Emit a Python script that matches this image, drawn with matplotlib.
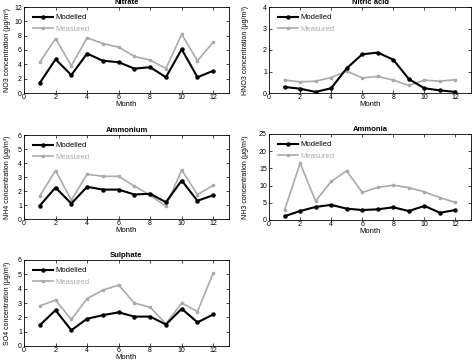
import matplotlib
matplotlib.use("Agg")
import matplotlib.pyplot as plt

months = list(range(1, 13))

no3_mod = [1.4, 4.7, 2.5, 5.5, 4.5, 4.3, 3.4, 3.6, 2.2, 6.1, 2.2, 3.1]
no3_meas = [4.3, 7.6, 3.8, 7.7, 6.9, 6.4, 5.1, 4.6, 3.4, 8.2, 4.5, 7.1]

hno3_mod = [0.28, 0.2, 0.05, 0.22, 1.15, 1.8, 1.88, 1.55, 0.65, 0.22, 0.12, 0.05]
hno3_meas = [0.6, 0.52, 0.55, 0.72, 1.02, 0.7, 0.77, 0.6, 0.35, 0.6, 0.55, 0.62]

nh4_mod = [0.95, 2.25, 1.1, 2.3, 2.1, 2.1, 1.75, 1.8, 1.2, 2.75, 1.3, 1.7]
nh4_meas = [1.65, 3.45, 1.35, 3.2, 3.05, 3.05, 2.35, 1.7, 0.9, 3.5, 1.75, 2.4]

nh3_mod = [1.1, 2.6, 3.8, 4.4, 3.3, 2.9, 3.1, 3.7, 2.6, 4.1, 2.1, 2.9]
nh3_meas = [2.8, 16.5, 5.5, 11.2, 14.3, 8.0, 9.5, 10.1, 9.4, 8.2, 6.5, 5.1]

so4_mod = [1.45, 2.5, 1.1, 1.9, 2.15, 2.35, 2.05, 2.05, 1.5, 2.6, 1.65, 2.2]
so4_meas = [2.8, 3.2, 1.85, 3.3, 3.9, 4.25, 3.0, 2.7, 1.55, 3.0, 2.4, 5.1]

panels = [
    ("Nitrate", "NO3", no3_mod, no3_meas, 12, [0, 2, 4, 6, 8, 10, 12], (24, 7, 229, 93), 11),
    ("Nitric acid", "HNO3", hno3_mod, hno3_meas, 4, [0, 1, 2, 3, 4], (269, 7, 471, 93), 249),
    ("Ammonium", "NH4", nh4_mod, nh4_meas, 6, [0, 1, 2, 3, 4, 5, 6], (24, 135, 229, 219), 11),
    ("Ammonia", "NH3", nh3_mod, nh3_meas, 25, [0, 5, 10, 15, 20, 25], (269, 134, 471, 220), 249),
    ("Sulphate", "SO4", so4_mod, so4_meas, 6, [0, 1, 2, 3, 4, 5, 6], (24, 260, 229, 346), 11),
]

W, H = 474, 361
fig = plt.figure(figsize=(W / 100, H / 100), dpi=100)
plt.rcParams['font.family'] = ['Liberation Sans', 'DejaVu Sans']

gray = "#aaaaaa"
for title, sp, mod, meas, ymax, yt, (x0, y0, x1, y1), ylx in panels:
    ax = fig.add_axes([x0 / W, 1 - y1 / H, (x1 - x0) / W, (y1 - y0) / H])
    ax.plot(months, meas, color=gray, lw=1.2, marker='s', ms=2, label="Measured")
    ax.plot(months, mod, color='black', lw=1.5, marker='o', ms=2.2, label="Modelled", zorder=3)
    ax.set_xlim(0, 13)
    ax.set_ylim(0, ymax)
    ax.set_xticks([0, 2, 4, 6, 8, 10, 12])
    ax.set_yticks(yt)
    ax.tick_params(direction='in', top=True, right=True, labelsize=5, length=2.5, width=0.5, pad=1.5)
    ax.tick_params(axis='x', pad=1)
    for s in ax.spines.values():
        s.set_linewidth(0.6)
    ax.set_title(title, fontsize=5.5, fontweight='bold', pad=2)
    ax.set_xlabel("Month", fontsize=5.5, labelpad=0)
    ax.set_ylabel(sp + " concentration (μg/m³)", fontsize=5)
    ax.yaxis.set_label_coords((ylx - x0) / (x1 - x0), 0.5)
    h, l = ax.get_legend_handles_labels()
    leg = ax.legend([h[1], h[0]], [l[1], l[0]], loc='upper left', frameon=False,
                    fontsize=5.5, handlelength=2.6, handletextpad=0.3, borderaxespad=0.3,
                    labelspacing=0.5, bbox_to_anchor=(0.02, 0.98))
    leg.get_texts()[1].set_color(gray)

fig.savefig("out.png", dpi=100)
